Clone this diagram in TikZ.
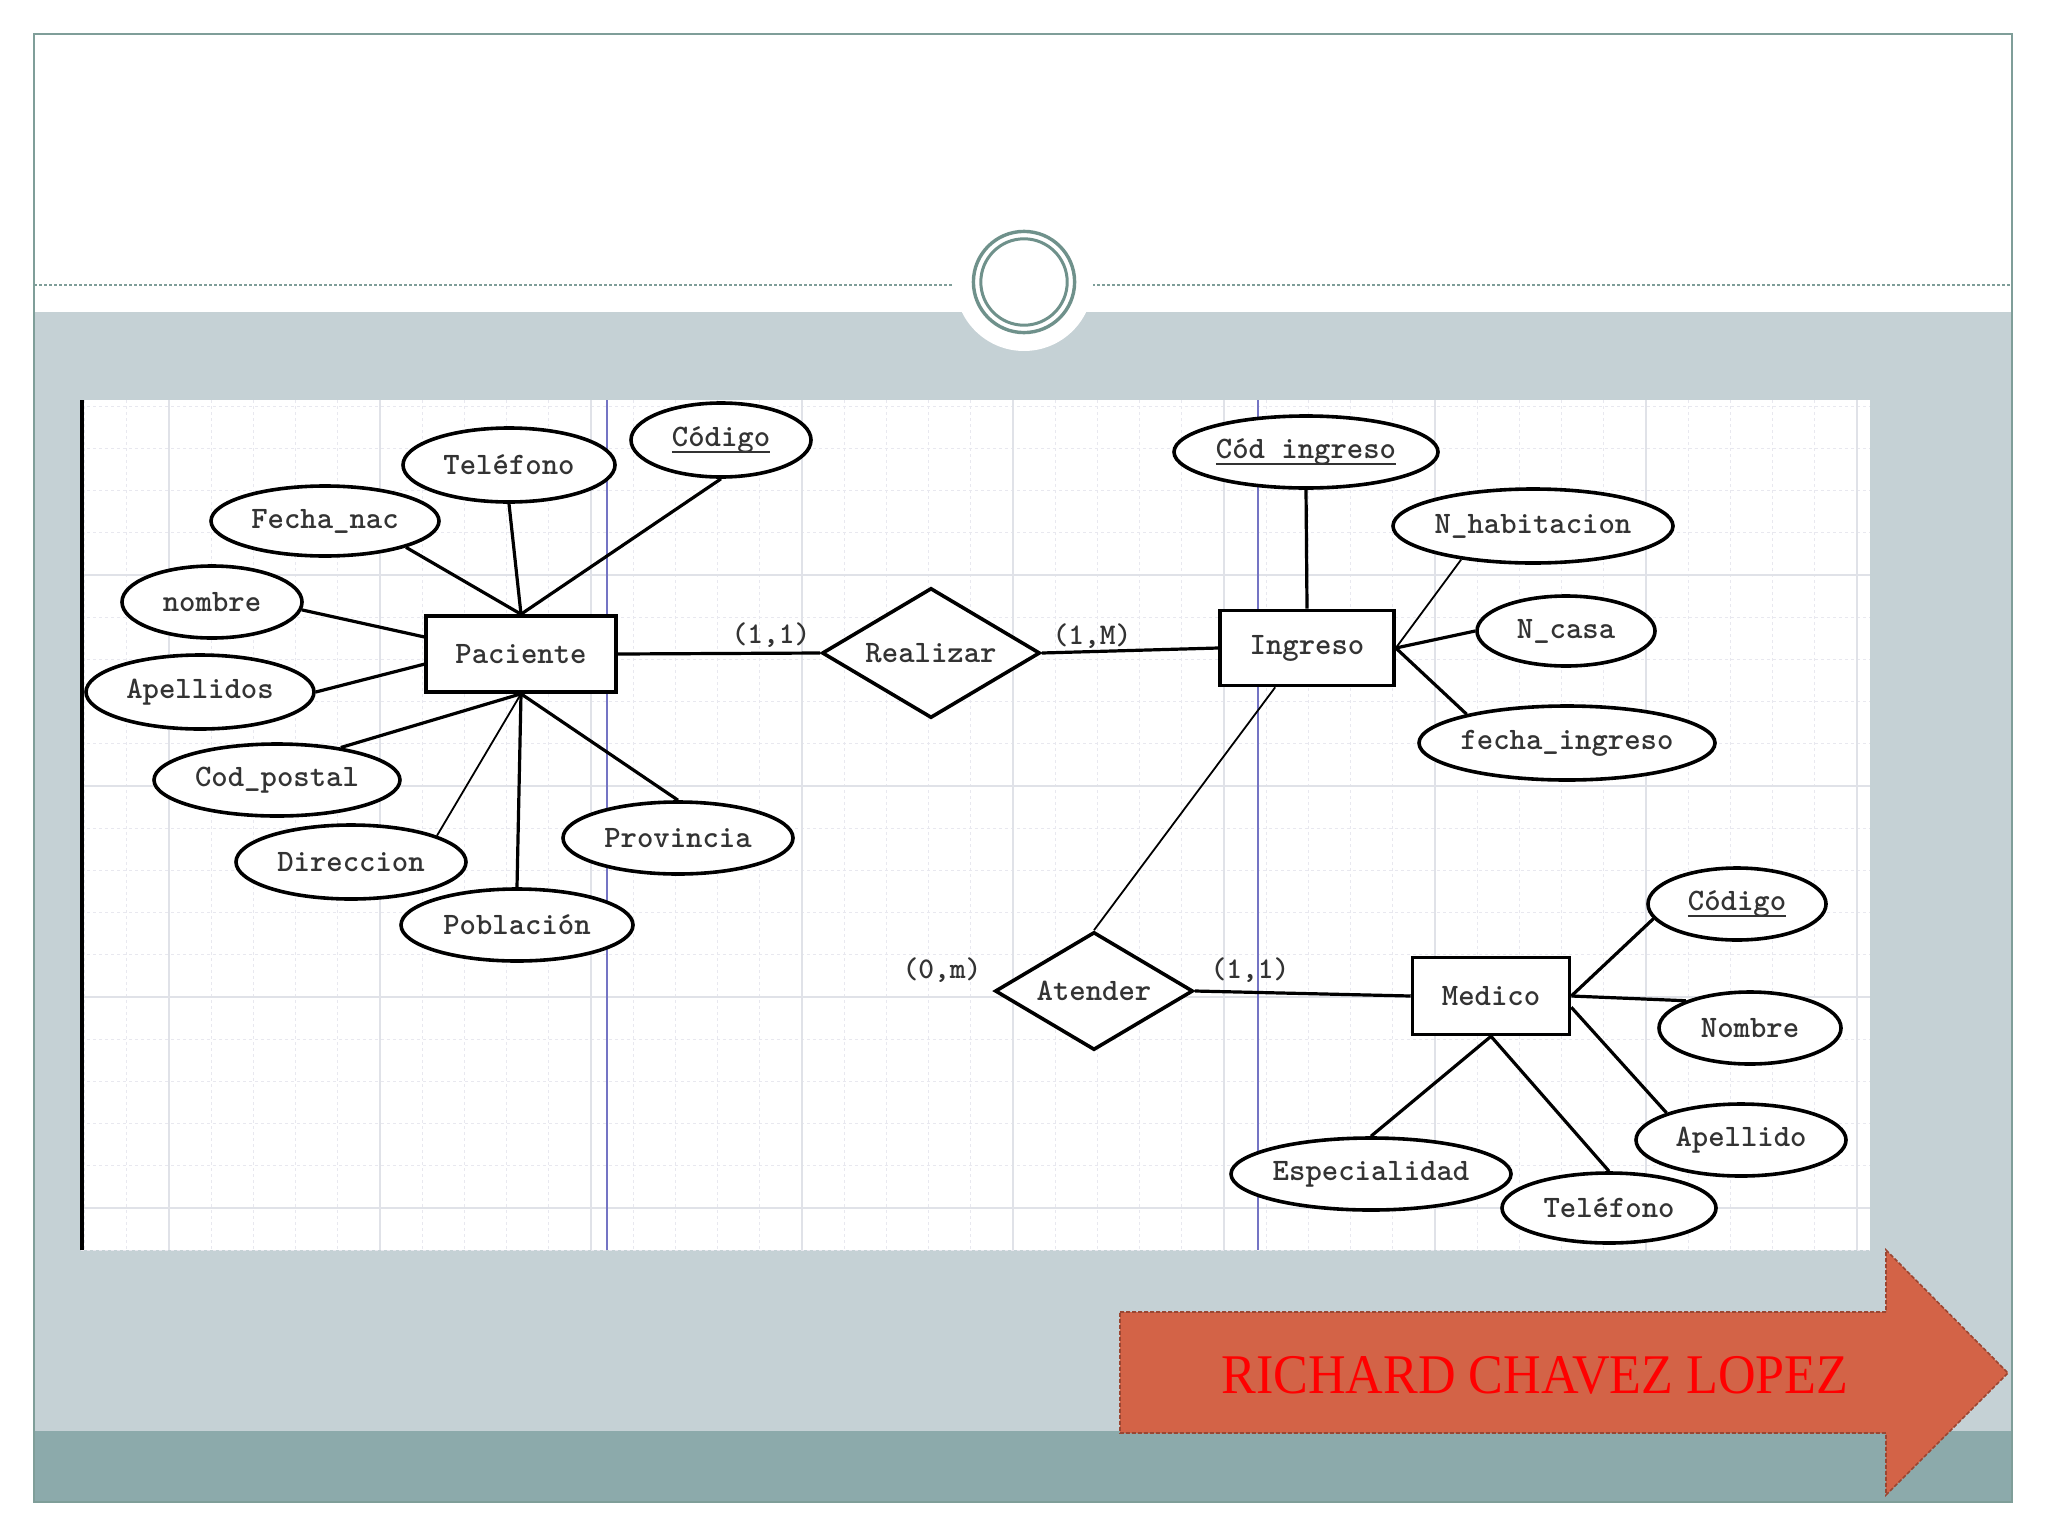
\documentclass[tikz,border=0pt]{standalone}
\usepackage{fontspec}
\usetikzlibrary{shapes.geometric,calc}
\newfontfamily\nameserif{Liberation Serif}
\definecolor{framec}{HTML}{7F9E99}
\definecolor{bandc}{HTML}{C5D1D5}
\definecolor{darkbandc}{HTML}{8CAAAB}
\definecolor{ringc}{HTML}{6F918B}
\definecolor{arrowfill}{HTML}{D36347}
\definecolor{arrowedge}{HTML}{9A4632}
\definecolor{gridminor}{HTML}{E8E8EF}
\definecolor{gridmajor}{HTML}{E0E2E8}
\definecolor{bluel}{HTML}{7474C4}
\definecolor{ertext}{HTML}{333333}
\newcommand{\erfont}{\ttfamily\bfseries\fontsize{15.6}{17}\selectfont}
\newcommand{\cardfont}{\ttfamily\bfseries\fontsize{15}{16}\selectfont}
\newcommand{\keyul}[1]{\leavevmode\setbox0=\hbox{#1}\rlap{\rule[-3.5pt]{\wd0}{1.4pt}}\box0}
\tikzset{
  attr/.style={ellipse, draw=black, line width=1.8pt, fill=white, inner sep=-1pt, text=ertext, font=\erfont},
  ent/.style={rectangle, draw=black, line width=1.8pt, fill=white, inner sep=0pt, text=ertext, font=\erfont},
  rel/.style={diamond, aspect=1.7, draw=black, line width=1.8pt, fill=white, inner sep=0pt, text=ertext, font=\erfont},
  card/.style={text=ertext, font=\cardfont, inner sep=0pt},
  link/.style={line width=1.6pt, black},
  thinlink/.style={line width=0.9pt, black},
  gridmin/.style={gridminor, line width=0.6pt, dash pattern=on 1.5pt off 1.5pt},
  gridmaj/.style={gridmajor, line width=0.9pt},
}
\begin{document}
\begin{tikzpicture}[x=0.5pt,y=-0.5pt]
\useasboundingbox (0,0) rectangle (2048,1536);
\fill[white] (0,0) rectangle (2048,1536);
% slide background
\fill[bandc] (34,312) rectangle (2012,1431);
\fill[darkbandc] (34,1431) rectangle (2012,1502);
\draw[framec, line width=0.9pt] (34,34) rectangle (2012,1502);
\draw[framec, line width=1.3pt] (34,34) -- (2012,34);
\draw[framec, line width=1.1pt, dash pattern=on 1.5pt off 1pt] (34,285) -- (953,285);
\draw[framec, line width=1.1pt, dash pattern=on 1.5pt off 1pt] (1092,285) -- (2012,285);
\fill[white] (1024,282) circle (34.5pt);
\draw[ringc, line width=1.7pt] (1024,282) circle (25.3pt);
\draw[ringc, line width=1.5pt] (1024,282) circle (21.6pt);

% diagram image
\fill[white] (81,400) rectangle (1870,1250);
\begin{scope}
  \clip (81,400) rectangle (1870,1250);
  \foreach \i in {-3,...,41} { \draw[gridmin] ({169+\i*42.2},400) -- ({169+\i*42.2},1250); }
  \foreach \j in {-5,...,17} { \draw[gridmin] (81,{575+\j*42.2}) -- (1870,{575+\j*42.2}); }
  \foreach \i in {0,...,8} { \draw[gridmaj] ({169+\i*211},400) -- ({169+\i*211},1250); }
  \foreach \j in {0,...,3} { \draw[gridmaj] (81,{575+\j*211}) -- (1870,{575+\j*211}); }
\end{scope}
\draw[bluel, line width=1pt] (607,400) -- (607,1250);
\draw[bluel, line width=1pt] (1258,400) -- (1258,1250);
\draw[black, line width=1.7pt] (82,400) -- (82,1250);

% entities and relations
\node[ent, minimum width=95pt, minimum height=38pt] (P) at (521,654) {Paciente};
\node[ent, minimum width=87pt, minimum height=37.5pt] (I) at (1307,648) {Ingreso};
\node[ent, minimum width=78.5pt, minimum height=38.5pt] (M) at (1491,996) {Medico};
\node[rel, minimum width=109pt, minimum height=65pt] (R) at (931,653) {Realizar};
\node[rel, minimum width=99pt, minimum height=59pt] (A) at (1094,991) {Atender};

% Paciente attributes
\node[attr, minimum width=106pt, minimum height=37pt] (ptel) at (509,465) {Teléfono};
\node[attr, minimum width=90pt, minimum height=37pt] (pcod) at (721,440) {\keyul{Código}};
\node[attr, minimum width=114pt, minimum height=35pt] (pfec) at (325,521) {Fecha\_nac};
\node[attr, minimum width=90pt, minimum height=36pt] (pnom) at (212,602) {nombre};
\node[attr, minimum width=114pt, minimum height=37pt] (pape) at (200,692) {Apellidos};
\node[attr, minimum width=123pt, minimum height=36pt] (pcp) at (277,780) {Cod\_postal};
\node[attr, minimum width=115pt, minimum height=37pt] (pdir) at (351,862) {Direccion};
\node[attr, minimum width=116pt, minimum height=36pt] (ppob) at (517,925) {Población};
\node[attr, minimum width=115pt, minimum height=36pt] (pprov) at (678,838) {Provincia};

% Ingreso attributes
\node[attr, minimum width=132pt, minimum height=36pt] (icod) at (1306,452) {\keyul{Cód ingreso}};
\node[attr, minimum width=140pt, minimum height=37pt] (ihab) at (1533,526) {N\_habitacion};
\node[attr, minimum width=89pt, minimum height=35pt] (icasa) at (1566,631) {N\_casa};
\node[attr, minimum width=148pt, minimum height=37pt] (ifec) at (1567,743) {fecha\_ingreso};

% Medico attributes
\node[attr, minimum width=89pt, minimum height=36pt] (mcod) at (1737,904) {\keyul{Código}};
\node[attr, minimum width=91pt, minimum height=36pt] (mnom) at (1750,1028) {Nombre};
\node[attr, minimum width=105pt, minimum height=36pt] (mape) at (1741,1140) {Apellido};
\node[attr, minimum width=140pt, minimum height=36pt] (mesp) at (1371,1174) {Especialidad};
\node[attr, minimum width=107pt, minimum height=35pt] (mtel) at (1609,1208) {Teléfono};

% cardinalities
\node[card] (c1) at (771,635) {(1,1)};
\node[card] (c2) at (1092,636) {(1,M)};
\node[card] (c3) at (942,970) {(0,m)};
\node[card] (c4) at (1250,970) {(1,1)};

% connectors Paciente
\draw[link] (ptel.south) -- (P.north);
\draw[link] (pcod.south) -- (P.north);
\draw[link] (pfec.342) -- (P.north);
\draw[link] (pnom.355) -- (P.170);
\draw[link] (pape.east) -- (P.186);
\draw[link] (pcp.27) -- (P.south);
\draw[thinlink] (pdir.17) -- (P.south);
\draw[link] (ppob.north) -- (P.south);
\draw[link] (pprov.north) -- (P.south);
% relations
\draw[link] (P.east) -- (R.west);
\draw[link] (R.east) -- (I.west);
\draw[thinlink] (I.231) -- (A.north);
\draw[link] (A.east) -- (M.west);
% Ingreso
\draw[link] (icod.south) -- (I.north);
\draw[thinlink] (I.east) -- (ihab.205);
\draw[link] (I.east) -- (icasa.west);
\draw[link] (I.east) -- (ifec.164);
% Medico
\draw[link] (M.east) -- (mcod.190);
\draw[link] (M.east) -- (mnom.157);
\draw[link] (M.352) -- (mape.160);
\draw[link] (M.south) -- (mesp.north);
\draw[link] (M.south) -- (mtel.north);

% arrow with name
\draw[fill=arrowfill, draw=arrowedge, line width=0.8pt, dash pattern=on 2pt off 1pt]
  (1120,1312) -- (1886,1312) -- (1886,1250) -- (2008,1373) -- (1886,1495) -- (1886,1433) -- (1120,1433) -- cycle;
\node[text=red, font=\nameserif\fontsize{28}{30}\selectfont, xscale=0.93, anchor=base, inner sep=0pt] (author) at (1535,1393) {RICHARD CHAVEZ LOPEZ};
\end{tikzpicture}
\end{document}
